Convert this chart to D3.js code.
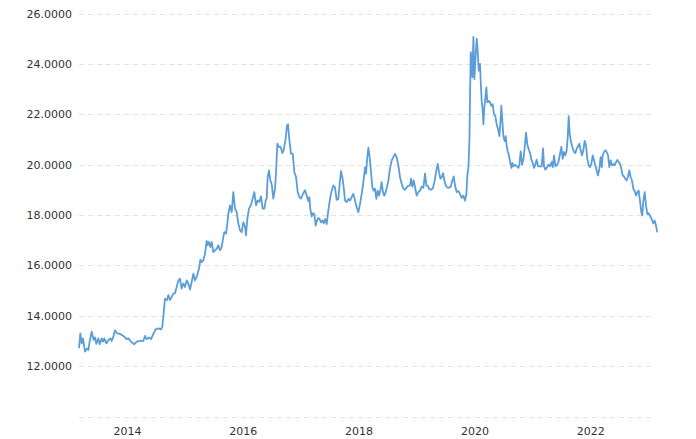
<!DOCTYPE html>
<html>
<head>
<meta charset="utf-8">
<script src="https://cdn.jsdelivr.net/npm/d3@7"></script>
<style>
  body { margin: 0; background: #fff; }
  svg { display: block; }
  .tick text { font-family: "DejaVu Sans", sans-serif; font-size: 11px; fill: #333; }
</style>
</head>
<body>
<svg class="chart" width="696" height="439"></svg>
<script>
// decimal years
var years = [
  2013.171, 2013.194, 2013.217, 2013.240, 2013.275, 2013.309, 2013.332, 2013.355, 2013.390, 2013.424,
  2013.447, 2013.470, 2013.505, 2013.528, 2013.563, 2013.585, 2013.608, 2013.643, 2013.678, 2013.712,
  2013.735, 2013.764, 2013.793, 2013.827, 2013.879, 2013.937, 2013.994, 2014.023, 2014.069, 2014.127,
  2014.167, 2014.225, 2014.282, 2014.311, 2014.340, 2014.380, 2014.415, 2014.455, 2014.495, 2014.541,
  2014.587, 2014.610, 2014.627, 2014.656, 2014.691, 2014.714, 2014.743, 2014.771, 2014.800, 2014.829,
  2014.858, 2014.887, 2014.915, 2014.944, 2014.973, 2015.002, 2015.031, 2015.059, 2015.088, 2015.117,
  2015.146, 2015.174, 2015.203, 2015.232,
  2015.244, 2015.267, 2015.290, 2015.318, 2015.347, 2015.376, 2015.393, 2015.416, 2015.439, 2015.462,
  2015.491, 2015.520, 2015.549, 2015.577, 2015.606, 2015.635, 2015.664, 2015.681, 2015.710, 2015.733,
  2015.750, 2015.779, 2015.808, 2015.836, 2015.865, 2015.894, 2015.923, 2015.952, 2015.980, 2016.009,
  2016.038, 2016.055, 2016.078, 2016.107, 2016.142, 2016.170, 2016.199, 2016.228, 2016.257, 2016.286,
  2016.314, 2016.343, 2016.372, 2016.395, 2016.412, 2016.429, 2016.453, 2016.475, 2016.499, 2016.527,
  2016.556, 2016.573, 2016.596, 2016.625, 2016.654, 2016.683, 2016.705, 2016.740, 2016.763, 2016.781,
  2016.804, 2016.832, 2016.861, 2016.890, 2016.919, 2016.948, 2016.976, 2017.005, 2017.040, 2017.074,
  2017.103, 2017.132, 2017.149, 2017.166, 2017.189, 2017.212, 2017.235, 2017.258, 2017.281, 2017.304,
  2017.327, 2017.351, 2017.374, 2017.397, 2017.420, 2017.448, 2017.477, 2017.506, 2017.535, 2017.564,
  2017.592, 2017.621, 2017.650, 2017.673, 2017.696, 2017.719, 2017.742, 2017.765, 2017.794, 2017.823,
  2017.851, 2017.880, 2017.909, 2017.938, 2017.967, 2017.995, 2018.024, 2018.053, 2018.082, 2018.111,
  2018.128, 2018.145, 2018.168, 2018.191, 2018.214, 2018.237, 2018.260, 2018.283, 2018.306, 2018.329,
  2018.352, 2018.375, 2018.398, 2018.421, 2018.444, 2018.467, 2018.491, 2018.514, 2018.542, 2018.571,
  2018.600, 2018.629, 2018.657, 2018.686, 2018.715, 2018.744, 2018.773, 2018.801, 2018.830, 2018.859,
  2018.888, 2018.905, 2018.928, 2018.951, 2018.974, 2019.003, 2019.032, 2019.060, 2019.089, 2019.118,
  2019.147, 2019.170, 2019.193, 2019.216, 2019.250, 2019.279, 2019.308, 2019.337, 2019.366, 2019.389,
  2019.412, 2019.435, 2019.458, 2019.481, 2019.504, 2019.527, 2019.561, 2019.590, 2019.619, 2019.642,
  2019.665, 2019.694, 2019.723, 2019.751, 2019.780, 2019.809, 2019.838, 2019.861,
  2019.878, 2019.896, 2019.913, 2019.924, 2019.936, 2019.947, 2019.964, 2019.982, 2019.999, 2020.016,
  2020.039, 2020.056, 2020.074, 2020.085, 2020.097, 2020.108, 2020.125, 2020.143, 2020.154, 2020.171,
  2020.189, 2020.206, 2020.223, 2020.246, 2020.269, 2020.292, 2020.315, 2020.338, 2020.361, 2020.384,
  2020.408, 2020.431, 2020.448, 2020.465, 2020.482, 2020.500, 2020.523, 2020.540, 2020.557, 2020.575,
  2020.592, 2020.615, 2020.638, 2020.655, 2020.673, 2020.701, 2020.730, 2020.759, 2020.776, 2020.799,
  2020.822, 2020.845, 2020.868, 2020.891, 2020.914, 2020.937, 2020.960, 2020.983, 2021.006, 2021.029,
  2021.052, 2021.075, 2021.098, 2021.133, 2021.162, 2021.185, 2021.202, 2021.225, 2021.248, 2021.277,
  2021.306, 2021.334, 2021.352, 2021.375, 2021.398, 2021.421, 2021.450, 2021.478, 2021.501, 2021.524,
  2021.547, 2021.570, 2021.593, 2021.611, 2021.628, 2021.645, 2021.668, 2021.691, 2021.720, 2021.743,
  2021.766, 2021.795, 2021.812, 2021.835, 2021.858, 2021.881, 2021.904, 2021.927, 2021.950, 2021.973,
  2021.996, 2022.019, 2022.042, 2022.065, 2022.088, 2022.111, 2022.134, 2022.157, 2022.180, 2022.198,
  2022.215, 2022.238, 2022.261, 2022.284, 2022.307, 2022.330, 2022.353, 2022.376, 2022.399, 2022.422,
  2022.445, 2022.468, 2022.491, 2022.514, 2022.537, 2022.560, 2022.583, 2022.606, 2022.629, 2022.652,
  2022.675, 2022.698, 2022.721, 2022.744, 2022.767, 2022.790, 2022.813, 2022.836, 2022.859, 2022.882,
  2022.899, 2022.917, 2022.940, 2022.963, 2022.986, 2023.009, 2023.032, 2023.061, 2023.089, 2023.112,
  2023.135, 2023.158
];

var prices = [
  12.71, 13.30, 12.90, 13.10, 12.58, 12.70, 12.64, 12.97, 13.37, 13.04,
  13.14, 12.88, 13.10, 12.87, 13.10, 12.97, 13.10, 12.90, 13.04, 13.10,
  13.00, 13.17, 13.43, 13.30, 13.28, 13.20, 13.07, 13.10, 12.97, 12.87,
  12.97, 13.00, 13.00, 13.20, 13.07, 13.14, 13.07, 13.28, 13.46, 13.50,
  13.46, 13.57, 13.96, 14.68, 14.62, 14.82, 14.62, 14.75, 14.88, 14.90,
  15.14, 15.40, 15.47, 15.08, 15.28, 15.14, 15.40, 15.28, 15.04, 15.34,
  15.67, 15.40, 15.54, 15.78,
  15.87, 16.23, 16.13, 16.20, 16.46, 16.97, 16.80, 16.93, 16.73, 16.93,
  16.53, 16.60, 16.66, 16.80, 16.60, 16.73, 17.13, 17.32, 17.26, 17.66,
  18.05, 18.38, 18.12, 18.91, 18.25, 18.12, 17.66, 17.39, 17.32, 17.72,
  17.52, 17.19, 17.85, 18.25, 18.41, 18.65, 18.91, 18.38, 18.58, 18.52,
  18.74, 18.25, 18.25, 18.58, 18.65, 19.51, 19.77, 19.38, 19.22, 18.65,
  19.05, 19.64, 20.83, 20.70, 20.70, 20.46, 20.57, 21.03, 21.56, 21.60,
  20.97, 20.44, 20.44, 19.71, 19.51, 18.91, 18.72, 18.65, 18.85, 18.98,
  18.77, 18.55, 18.71, 18.24, 17.94, 18.07, 18.04, 17.58, 17.78, 17.88,
  17.84, 17.71, 17.78, 17.67, 17.84, 17.64, 18.18, 18.64, 18.97, 19.17,
  19.10, 18.60, 18.64, 19.24, 19.74, 19.50, 19.10, 18.57, 18.51, 18.64,
  18.57, 18.71, 18.84, 18.57, 18.31, 18.11, 18.44, 18.84, 19.30, 19.90,
  19.64, 20.17, 20.67, 20.30, 19.70, 19.10, 18.97, 19.04, 18.64, 18.97,
  18.77, 18.97, 19.30, 18.91, 18.77, 18.91, 19.13, 19.37, 19.84, 20.17,
  20.30, 20.43, 20.30, 19.97, 19.50, 19.24, 19.04, 19.00, 19.10, 19.17,
  19.17, 19.44, 19.13, 19.37, 19.10, 18.77, 18.91, 18.97, 19.13, 19.08,
  19.64, 19.17, 19.17, 19.04, 19.00, 19.04, 19.30, 19.70, 20.03, 19.70,
  19.44, 19.50, 19.66, 19.37, 19.17, 19.10, 19.08, 19.13, 19.37, 19.53,
  19.17, 18.91, 18.95, 18.84, 18.68, 18.77, 18.57, 18.84,
  19.60, 19.87, 20.93, 22.67, 24.47, 24.27, 23.47, 25.07, 23.40, 24.13,
  25.00, 24.53, 23.73, 23.93, 24.00, 23.33, 22.53, 22.13, 21.60, 22.27,
  22.67, 23.07, 22.47, 22.53, 22.47, 22.33, 22.40, 22.00, 21.93, 21.60,
  21.40, 21.13, 21.67, 22.33, 21.73, 21.13, 20.93, 21.13, 20.73, 20.53,
  20.40, 20.13, 19.87, 20.07, 19.93, 20.00, 19.93, 19.87, 20.00, 20.53,
  20.00, 20.20, 20.67, 21.27, 20.80, 20.60, 20.47, 20.20, 20.07, 19.87,
  20.00, 20.20, 19.93, 19.93, 19.93, 20.64, 19.93, 19.80, 19.87, 20.00,
  19.93, 20.10, 19.90, 20.37, 19.93, 19.97, 20.10, 20.43, 20.70, 20.23,
  20.50, 20.37, 20.57, 21.10, 21.92, 21.23, 20.90, 20.70, 20.50, 20.46,
  20.63, 20.76, 20.83, 20.57, 20.37, 20.57, 20.94, 20.76, 20.23, 19.97,
  19.90, 20.03, 20.37, 20.17, 19.97, 19.77, 19.57, 19.84, 20.30, 19.90,
  20.37, 20.50, 20.57, 20.50, 20.37, 19.90, 20.17, 19.97, 20.03, 19.97,
  20.10, 20.19, 20.10, 20.03, 19.84, 19.57, 19.53, 19.44, 19.37, 19.53,
  19.77, 19.50, 19.37, 19.04, 18.95, 18.77, 18.91, 18.97, 18.57, 18.11,
  17.98, 18.57, 18.91, 18.37, 18.04, 18.07, 17.98, 17.84, 17.67, 17.78,
  17.58, 17.31
];

var yearTicks = [2014, 2016, 2018, 2020, 2022];
var gridValues = [10, 12, 14, 16, 18, 20, 22, 24, 26];
var labelValues = [12, 14, 16, 18, 20, 22, 24, 26];

var data = years.map(function(d, i) { return {year: d, price: prices[i]}; });

var svg = d3.select(".chart");

var x = d3.scaleLinear()
  .domain(d3.extent(years))
  .range([79, 657.3]);

var y = d3.scaleLinear()
  .domain([10, 26])
  .range([416.5, 13.5]);

// dashed gridlines
svg.append("g")
  .selectAll("line")
  .data(gridValues)
  .enter()
  .append("line")
  .attr("x1", 79)
  .attr("x2", 655)
  .attr("y1", function(d) { return Math.round(y(d)) + 0.5; })
  .attr("y2", function(d) { return Math.round(y(d)) + 0.5; })
  .attr("stroke", "#e2e2e2")
  .attr("stroke-width", 1)
  .attr("stroke-dasharray", "5,4");

// y axis labels
var yAxis = svg.append("g")
  .attr("transform", "translate(72,0)")
  .call(d3.axisLeft(y).tickValues(labelValues).tickFormat(d3.format(".4f")).tickSize(0).tickPadding(0));
yAxis.select(".domain").remove();

// x axis labels
var xAxis = svg.append("g")
  .attr("transform", "translate(0,424)")
  .call(d3.axisBottom(x).tickValues(yearTicks).tickFormat(d3.format("d")).tickSize(0).tickPadding(3));
xAxis.select(".domain").remove();

// price line
var line = d3.line()
  .x(function(d) { return x(d.year); })
  .y(function(d) { return y(d.price); });

svg.append("path")
  .datum(data)
  .attr("fill", "none")
  .attr("stroke", "#5b9dd9")
  .attr("stroke-width", 1.8)
  .attr("stroke-linejoin", "round")
  .attr("d", line);
</script>
</body>
</html>
